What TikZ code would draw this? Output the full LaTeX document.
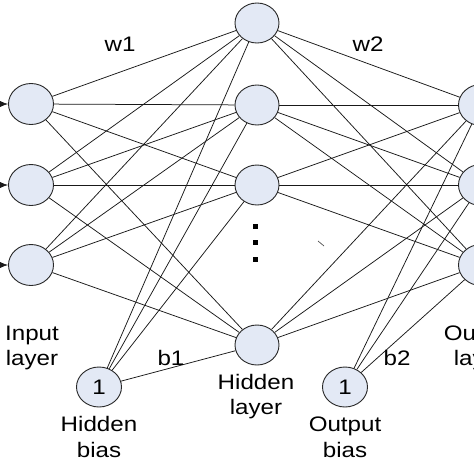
\documentclass[tikz,border=0pt]{standalone}
\usepackage{fontspec}
\setmainfont{Liberation Sans}
\usetikzlibrary{arrows.meta,shapes.geometric}
\definecolor{nfill}{RGB}{227,233,245}
\definecolor{nline}{RGB}{40,40,40}
\newcommand{\sxt}[1]{\scalebox{1.15}[1]{#1}}
\begin{document}
\begin{tikzpicture}[x=1pt,y=-1pt,
  neuron/.style={ellipse, draw=nline, fill=nfill, line width=0.9pt, minimum width=45pt, minimum height=41pt, inner sep=0pt, font=\fontsize{21}{25}\selectfont},
  conn/.style={draw=black!90, line width=0.75pt},
  lbl/.style={font=\fontsize{21}{25}\selectfont, inner sep=0pt, anchor=base}]
\useasboundingbox (0,0) rectangle (474,474);
\clip (0,0) rectangle (474,474);
\fill[white] (0,0) rectangle (474,474);

% input layer
\node[neuron] (in1) at (31,104) {};
\node[neuron] (in2) at (31,185) {};
\node[neuron] (in3) at (31,265) {};
% hidden layer
\node[neuron,minimum width=44pt,minimum height=40pt] (h1) at (257,23) {};
\node[neuron,minimum width=44pt,minimum height=40pt] (h2) at (257,105) {};
\node[neuron,minimum width=44pt,minimum height=40pt] (h3) at (257,185) {};
\node[neuron,minimum width=44pt,minimum height=40pt] (h4) at (257,345) {};
% output layer
\node[neuron] (o1) at (481,105) {};
\node[neuron] (o2) at (481,185) {};
\node[neuron] (o3) at (481,265) {};
% biases
\node[neuron,minimum height=40pt] (hb) at (99,387) {\sxt{1}};
\node[neuron,minimum height=40pt] (ob) at (345,387) {\sxt{1}};

% connections
\begin{scope}[on background layer/.try]
\end{scope}
\foreach \i in {in1,in2,in3,hb}
  \foreach \h in {h1,h2,h3,h4}
    \draw[conn] (\i) -- (\h);
\foreach \h in {h1,h2,h3,h4,ob}
  \foreach \o in {o1,o2,o3}
    \draw[conn] (\h) -- (\o);

% redraw nodes on top
\foreach \n in {in1,in2,in3,o1,o2,o3}
  \path (\n);

% input arrows
\coordinate (a1) at (-20,104);
\coordinate (a2) at (-20,185);
\coordinate (a3) at (-20,265);
\draw[conn,-{Latex[length=9pt,width=7pt]}] (a1) -- (in1);
\draw[conn,-{Latex[length=9pt,width=7pt]}] (a2) -- (in2);
\draw[conn,-{Latex[length=9pt,width=7pt]}] (a3) -- (in3);

% vertical dots
\fill[black] (253,223.5) rectangle (258,228.5);
\fill[black] (253,239.5) rectangle (258,244.5);
\fill[black] (253,256.5) rectangle (258,261.5);
\draw[black!70, line width=0.7pt] (318,241) -- (324,246);

% labels
\node[lbl] (w1) at (120,51) {\sxt{w1}};
\node[lbl] (w2) at (368,51) {\sxt{w2}};
\node[lbl] (b1) at (171,365) {\sxt{b1}};
\node[lbl] (b2) at (397,365) {\sxt{b2}};
\node[lbl] (il1) at (32,340) {\sxt{Input}};
\node[lbl] (il2) at (32,365) {\sxt{layer}};
\node[lbl] (hl1) at (256,389) {\sxt{Hidden}};
\node[lbl] (hl2) at (256,414) {\sxt{layer}};
\node[lbl] (hb1) at (99,431) {\sxt{Hidden}};
\node[lbl] (hb2) at (99,457) {\sxt{bias}};
\node[lbl] (ob1) at (345,431) {\sxt{Output}};
\node[lbl] (ob2) at (345,457) {\sxt{bias}};
\node[lbl] (ol1) at (480,340) {\sxt{Output}};
\node[lbl] (ol2) at (480,365) {\sxt{layer}};
\end{tikzpicture}
\end{document}
